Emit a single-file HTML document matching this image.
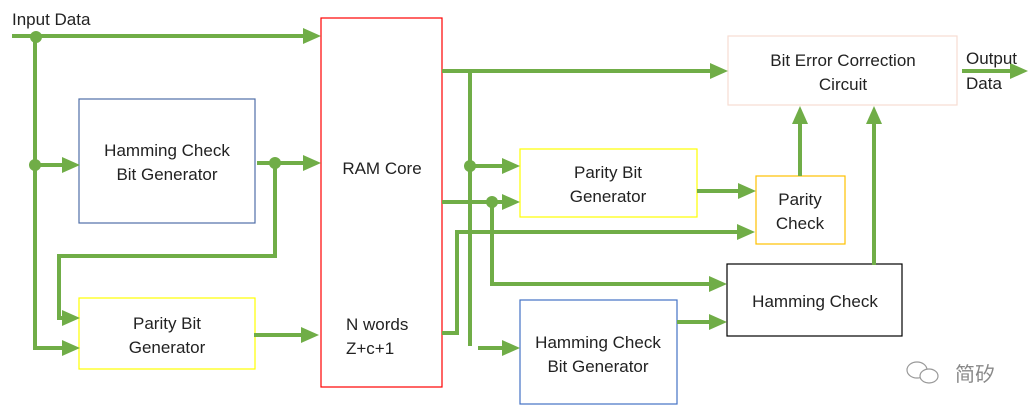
<!DOCTYPE html>
<html><head><meta charset="utf-8"><style>
body{margin:0;background:#fff}
svg text{font-family:"Liberation Sans","Noto Sans CJK SC",sans-serif;font-size:17px;fill:#222}
</style></head><body>
<svg width="1034" height="415" viewBox="0 0 1034 415" xmlns="http://www.w3.org/2000/svg">
<defs><marker id="a" markerWidth="4.5" markerHeight="4" refX="0.5" refY="2" orient="auto" markerUnits="strokeWidth"><path d="M0,0 L4.5,2 L0,4 z" fill="#70ad47"/></marker></defs>
<g fill="none" stroke-width="1.2">
<rect x="79" y="99" width="176" height="124" stroke="#4f6ea8"/>
<rect x="79" y="298" width="176" height="71" stroke="#ffff00"/>
<rect x="321" y="18" width="121" height="369" stroke="#ff0000"/>
<rect x="728" y="36" width="229" height="69" stroke="#f6ddd2"/>
<rect x="520" y="149" width="177" height="68" stroke="#ffff00"/>
<rect x="756" y="176" width="89" height="68" stroke="#ffc000"/>
<rect x="727" y="264" width="175" height="72" stroke="#000"/>
<rect x="520" y="300" width="157" height="104" stroke="#4472c4"/>
</g>
<g fill="none" stroke="#70ad47" stroke-width="4">
<path d="M12,36 H305" marker-end="url(#a)"/>
<path d="M35,37 V348 H64" marker-end="url(#a)"/>
<path d="M35,165 H64" marker-end="url(#a)"/>
<path d="M257,163 H305" marker-end="url(#a)"/>
<path d="M275,163 V256 H59 V318 H64" marker-end="url(#a)"/>
<path d="M254,335 H303" marker-end="url(#a)"/>
<path d="M442,71 H712" marker-end="url(#a)"/>
<path d="M470,71 V346"/>
<path d="M470,166 H504" marker-end="url(#a)"/>
<path d="M442,202 H504" marker-end="url(#a)"/>
<path d="M492,202 V284 H711" marker-end="url(#a)"/>
<path d="M442,333 H457 V232 H739" marker-end="url(#a)"/>
<path d="M478,348 H504" marker-end="url(#a)"/>
<path d="M697,191 H740" marker-end="url(#a)"/>
<path d="M800,176 V122" marker-end="url(#a)"/>
<path d="M874,265 V122" marker-end="url(#a)"/>
<path d="M677,322 H711" marker-end="url(#a)"/>
<path d="M962,71 H1012" marker-end="url(#a)"/>
</g>
<g fill="#70ad47">
<circle cx="36" cy="37" r="6"/><circle cx="35" cy="165" r="6"/><circle cx="275" cy="163" r="6"/>
<circle cx="470" cy="166" r="6"/><circle cx="492" cy="202" r="6"/>
</g>
<text x="12" y="25">Input Data</text>
<g text-anchor="middle">
<text x="167" y="156">Hamming Check</text><text x="167" y="180">Bit Generator</text>
<text x="167" y="329">Parity Bit</text><text x="167" y="353">Generator</text>
<text x="382" y="174">RAM Core</text>
<text x="843" y="66">Bit Error Correction</text><text x="843" y="90">Circuit</text>
<text x="608" y="178">Parity Bit</text><text x="608" y="202">Generator</text>
<text x="800" y="205">Parity</text><text x="800" y="229">Check</text>
<text x="815" y="307">Hamming Check</text>
<text x="598" y="348">Hamming Check</text><text x="598" y="372">Bit Generator</text>
</g>
<text x="346" y="330">N words</text><text x="346" y="354">Z+c+1</text>
<text x="966" y="64">Output</text><text x="966" y="89">Data</text>
<g fill="none" stroke="#999" stroke-width="1.2">
<ellipse cx="917" cy="370" rx="10" ry="8"/><ellipse cx="929" cy="376" rx="9" ry="7" fill="#fff"/>
</g>
<text x="955" y="381" style="font-size:20px;fill:#888">简矽</text>
</svg>
</body></html>
